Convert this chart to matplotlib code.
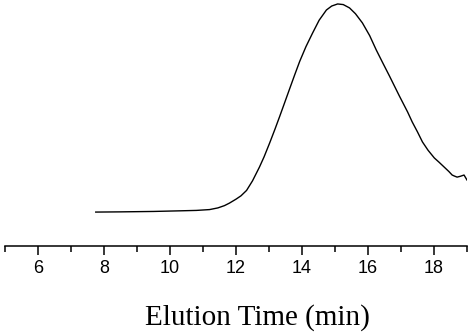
import matplotlib.pyplot as plt
from matplotlib.ticker import MultipleLocator

# elution time (min) and detector signal (normalised)
time_min = [7.75, 8.5, 9.5, 10.3, 10.8, 11.2, 11.45, 11.65, 11.8, 12.0, 12.15,
            12.32, 12.5, 12.71, 12.85, 13.02, 13.18, 13.32, 13.45, 13.62, 13.78,
            13.93, 14.12, 14.32, 14.52, 14.74, 14.9, 15.08, 15.25, 15.44, 15.62,
            15.83, 16.05, 16.25, 16.45, 16.65, 16.95, 17.2, 17.34,
            17.5, 17.65, 17.82, 18.01, 18.15, 18.31, 18.45, 18.55, 18.62, 18.7,
            18.8, 18.91, 19.0]
signal = [0.0, 0.001, 0.003, 0.006, 0.008, 0.012, 0.02, 0.031, 0.043, 0.062,
          0.078, 0.104, 0.15, 0.216, 0.265, 0.332, 0.398, 0.458, 0.515, 0.59,
          0.66, 0.724, 0.795, 0.86, 0.922, 0.971, 0.99, 1.0, 0.997, 0.981,
          0.953, 0.909, 0.848, 0.779, 0.716, 0.654, 0.558, 0.481, 0.433,
          0.385, 0.337, 0.297, 0.26, 0.24, 0.216, 0.195, 0.178, 0.173,
          0.168, 0.172, 0.178, 0.154]

fig = plt.figure(figsize=(4.74, 3.33), dpi=100)
ax = fig.add_axes([5 / 474, 1 - 246 / 333, 462 / 474, 246 / 333])

ax.plot(time_min, signal, color='black', lw=1.0)

ax.set_xlim(5, 19)
ax.set_ylim(-0.163, 1.019)

for side in ['top', 'right', 'left']:
    ax.spines[side].set_visible(False)
ax.spines['bottom'].set_linewidth(1.1)
ax.set_yticks([])

ax.xaxis.set_major_locator(MultipleLocator(2))
ax.xaxis.set_minor_locator(MultipleLocator(1))
ax.tick_params(axis='x', which='major', direction='out', length=6.5, width=1.1, pad=3.5,
               labelsize=13)
ax.tick_params(axis='x', which='minor', direction='out', length=4.3, width=1.1)
for lbl in ax.get_xticklabels():
    lbl.set_fontfamily('Liberation Sans')

fig.text(257.5 / 474, 1 - 325 / 333, 'Elution Time (min)', ha='center', va='baseline',
         fontsize=21, fontfamily='Liberation Serif')

fig.savefig('out.png', dpi=100)
